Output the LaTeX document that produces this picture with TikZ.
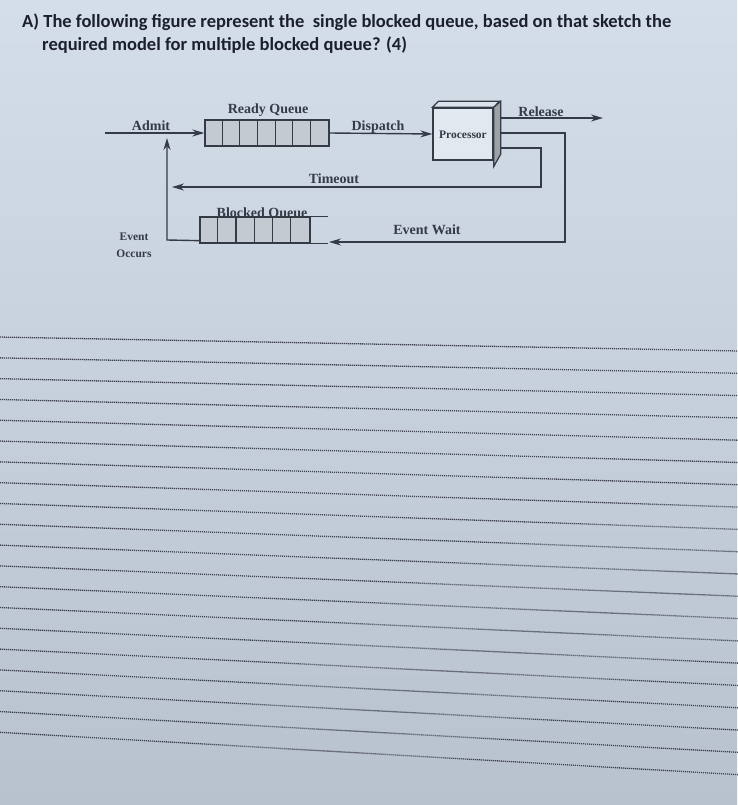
\documentclass[tikz,border=0pt]{standalone}
\usepackage{fontspec}
\setmainfont{Liberation Serif}
\newfontfamily\titlefont{Carlito}
\usetikzlibrary{arrows.meta,calc}
\definecolor{paperTop}{RGB}{212,222,233}
\definecolor{paperBot}{RGB}{184,194,207}
\definecolor{ink}{RGB}{28,32,44}
\definecolor{diag}{RGB}{52,58,70}
\definecolor{cellfill}{RGB}{196,202,209}
\tikzset{
  conn/.style={draw=diag,line width=1.4pt},
  arr/.style={conn,-{Stealth[length=12pt,width=7pt]}},
  lbl/.style={font=\fontsize{14}{15}\selectfont\bfseries,text=diag,inner sep=0pt},
  small/.style={font=\fontsize{11.5}{13}\selectfont\bfseries},
  qbox/.style={draw=diag,line width=1.3pt,fill=cellfill,minimum height=26pt,inner sep=0pt},
  rule/.style={draw=ink!85,line width=1.3pt,dash pattern=on 1.1pt off 0.9pt},
  ttl/.style={font=\titlefont\fontsize{18.5}{21}\selectfont\bfseries,text=ink,anchor=west,inner sep=0pt}
}
\begin{document}
\begin{tikzpicture}[x=1pt,y=-1pt]
\useasboundingbox (0,0) rectangle (737,805);
\shade[top color=paperTop,bottom color=paperBot] (0,0) rectangle (737,805);
% title
\node[ttl] (t1) at (22,22) {A) The following figure represent the \ single blocked queue, based on that sketch the};
\node[ttl] (t2) at (42,45) {required model for multiple blocked queue? (4)};
% ready queue
\node[qbox,minimum width=124pt] (rq) at (267,133) {};
\foreach \i in {1,...,6} \draw[diag,line width=1.1pt] ($(rq.north west)+(\i*17.7,0)$) -- ($(rq.south west)+(\i*17.7,0)$);
\node[lbl] (rql) at (268,110) {Ready Queue};
% processor
\node[draw=diag,line width=1.3pt,fill=paperTop!70!white,minimum width=60pt,minimum height=52pt,inner sep=0pt] (proc) at (463,134) {};
\node[lbl,small] (procl) at (463,135) {Processor};
\draw[diag,line width=1.2pt,fill=paperTop!85!white] (proc.north west) -- ++(6,-6) -- ++(61,0) -- (proc.north east) -- cycle;
\draw[diag,line width=1.2pt,fill=cellfill!80!black] (proc.north east) -- ++(7,-6) -- ++(0,53) -- ($(proc.south east)+(0,6)$) -- cycle;
\coordinate (relS) at (500,118);
\coordinate (relE) at (603,118);
\coordinate (evS) at (500,133);
\coordinate (toS) at (500,148);
% blocked queue (label partly hidden by the box)
\node[lbl] (bql) at (262,214) {Blocked Queue};
\node[qbox,minimum width=110pt] (bq) at (255,230) {};
\foreach \i in {1,...,5} \draw[diag,line width=1.1pt] ($(bq.north west)+(\i*18.3,0)$) -- ($(bq.south west)+(\i*18.3,0)$);
\draw[diag,line width=1.3pt] (bq.north east) -- ++(17,0);
\draw[diag,line width=1.3pt] (bq.south east) -- ++(17,0);
% connectors
\coordinate (admS) at (105,133);
\draw[arr] (admS) -- (rq.west);
\node[lbl] (adml) at (151,126) {Admit};
\draw[arr] (rq.east) -- (proc.west);
\node[lbl] (displ) at (378,127) {Dispatch};
\draw[arr] (relS) -- (relE);
\node[lbl] (rell) at (541,112) {Release};
\coordinate (toE) at (172,187);
\draw[arr] (toS) -- (541,148) -- (541,187) -- (toE);
\node[lbl] (tol) at (334,179) {Timeout};
\coordinate (evE) at (329,242);
\draw[arr] (evS) -- (565,133) -- (565,242) -- (evE);
\node[lbl] (evl) at (427,230) {Event Wait};
\coordinate (admUp) at (167,138);
\draw[arr] ($(bq.south west)+(0,-3)$) -- (167,240) -- (admUp);
\node[lbl,small] (eo1) at (134,237) {Event};
\node[lbl,small] (eo2) at (134,254) {Occurs};
% ruled lines
\foreach \i in {0,...,19} \draw[rule] (-2,{337+20.8*\i}) -- (739,{351+22.3*\i});
\end{tikzpicture}
\end{document}
